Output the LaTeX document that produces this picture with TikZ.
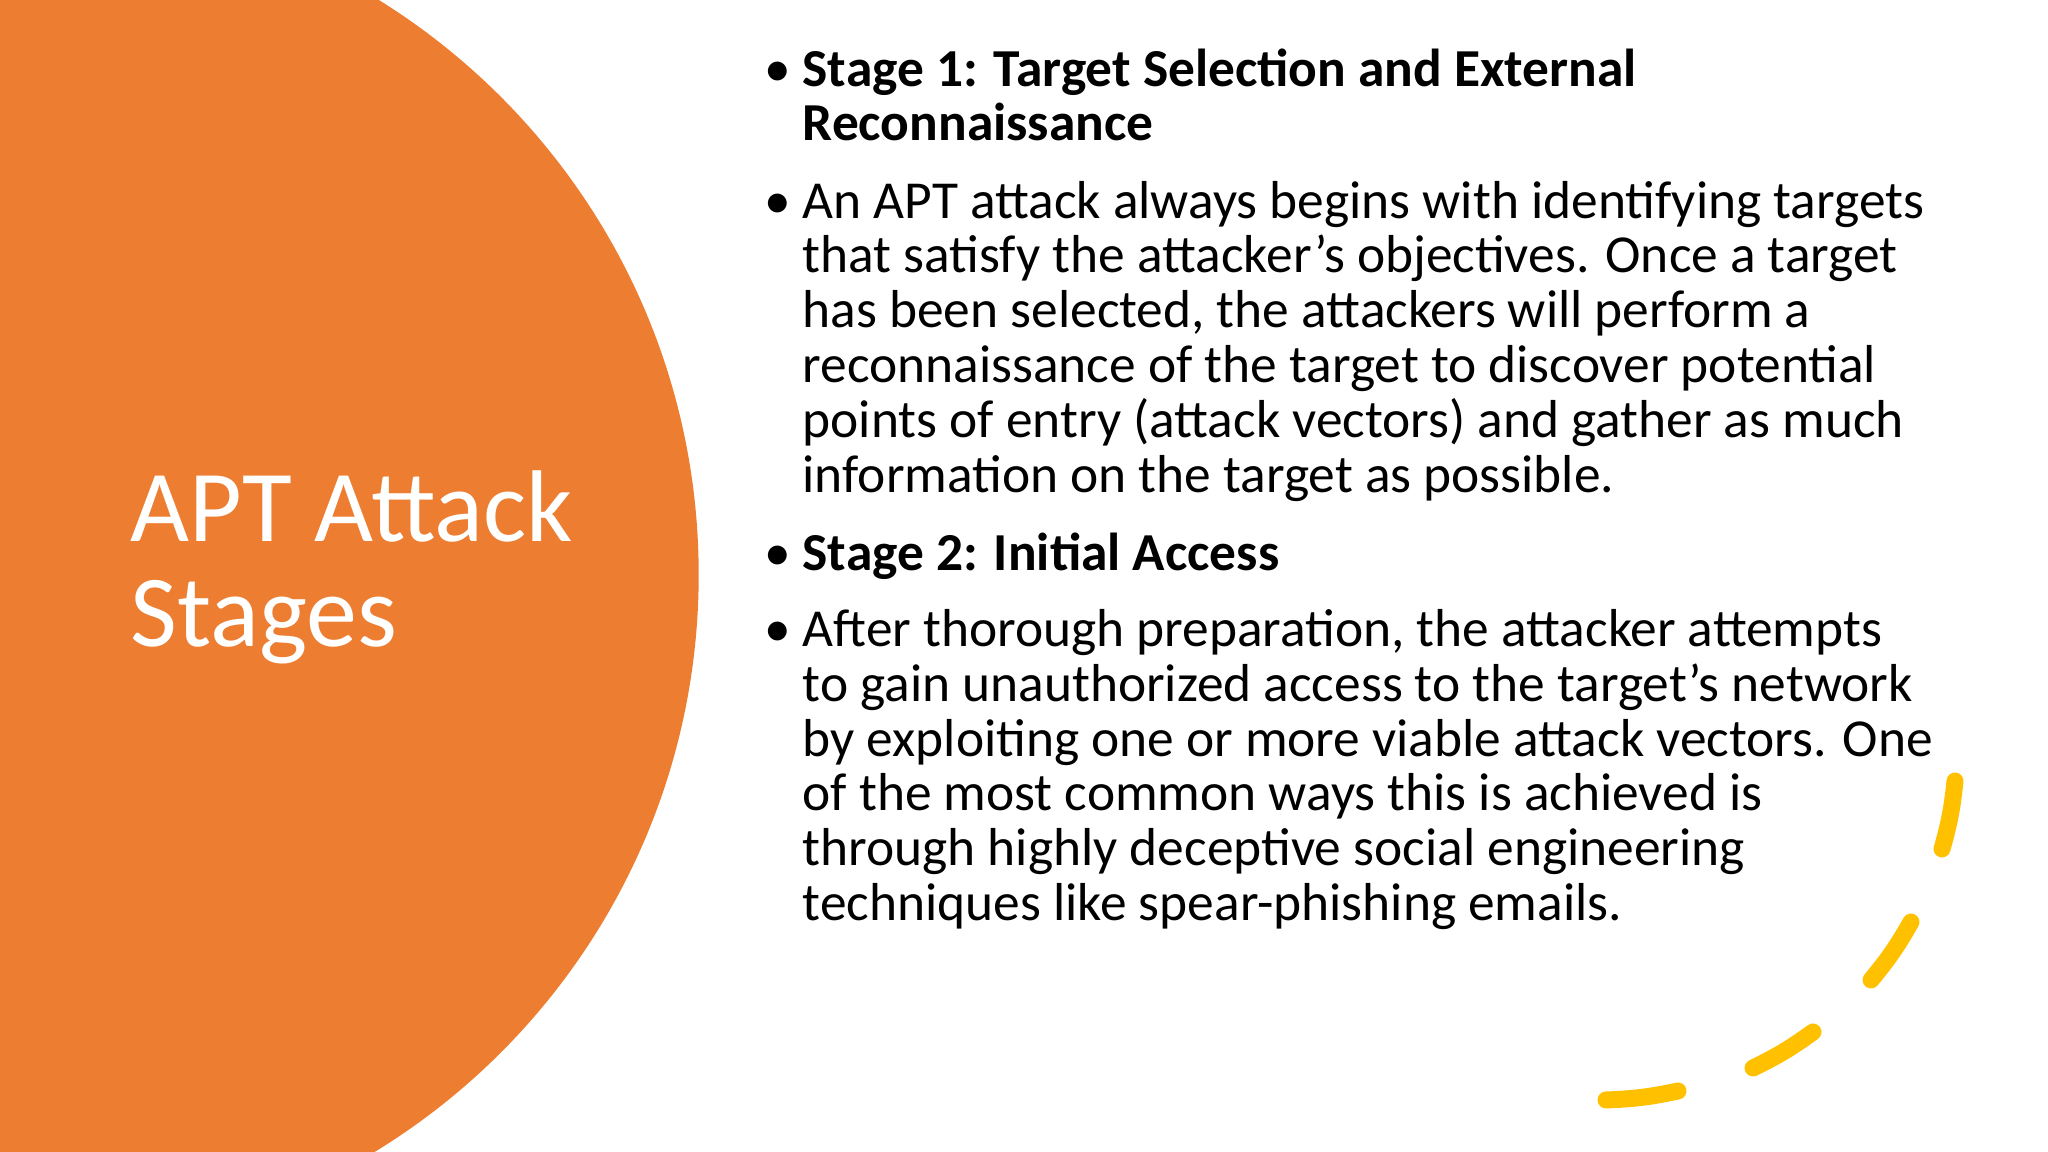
\documentclass[tikz,border=0pt]{standalone}
\usepackage{fontspec}
\setmainfont{Carlito}
\definecolor{apporange}{HTML}{ED7D31}
\definecolor{appyellow}{HTML}{FFC000}
\tikzset{
  bodyline/.style={anchor=base west, inner sep=0pt, font=\fontsize{15.2}{18}\selectfont},
  bulletmark/.style={anchor=base west, inner sep=0pt, font=\fontsize{15.2}{18}\selectfont},
  titleline/.style={anchor=base west, inner sep=0pt, text=white, font=\fontsize{29}{30}\selectfont},
  dashseg/.style={draw=appyellow, line width=0.17cm, line cap=round}
}
\begin{document}
\begin{tikzpicture}
\useasboundingbox (0,0) rectangle (20.48,11.52);
\begin{scope}
\clip (0,0) rectangle (20.48,11.52);
\fill[apporange] (0.227,5.773) circle (6.76);
\end{scope}
\node[titleline] (t1) at (1.30,6.10) {APT Attack};
\node[titleline] (t2) at (1.30,5.055) {Stages};
% bullets
\foreach \y/\n in {10.658/b1, 9.339/b2, 5.813/b3, 5.055/b4} {
  \node[bulletmark] (\n) at (7.64,\y) {•};
}
\node[bodyline] (l1) at (8.02,10.658) {\bfseries Stage 1: Target Selection and External};
\node[bodyline] (l2) at (8.02,10.110) {\bfseries Reconnaissance};
\node[bodyline] (l3) at (8.02,9.339) {An APT attack always begins with identifying targets};
\node[bodyline] (l4) at (8.02,8.790) {that satisfy the attacker’s objectives. Once a target};
\node[bodyline] (l5) at (8.02,8.242) {has been selected, the attackers will perform a};
\node[bodyline] (l6) at (8.02,7.693) {reconnaissance of the target to discover potential};
\node[bodyline] (l7) at (8.02,7.145) {points of entry (attack vectors) and gather as much};
\node[bodyline] (l8) at (8.02,6.596) {information on the target as possible.};
\node[bodyline] (l9) at (8.02,5.813) {\bfseries Stage 2: Initial Access};
\node[bodyline] (l10) at (8.02,5.055) {After thorough preparation, the attacker attempts};
\node[bodyline] (l11) at (8.02,4.507) {to gain unauthorized access to the target’s network};
\node[bodyline] (l12) at (8.02,3.958) {by exploiting one or more viable attack vectors. One};
\node[bodyline] (l13) at (8.02,3.410) {of the most common ways this is achieved is};
\node[bodyline] (l14) at (8.02,2.861) {through highly deceptive social engineering};
\node[bodyline] (l15) at (8.02,2.313) {techniques like spear-phishing emails.};
% yellow dashes
\coordinate (d1a) at (19.55,3.71); \coordinate (d1b) at (19.42,3.03);
\coordinate (d2a) at (19.11,2.30); \coordinate (d2b) at (18.71,1.72);
\coordinate (d3a) at (18.13,1.20); \coordinate (d3b) at (17.53,0.84);
\coordinate (d4a) at (16.78,0.61); \coordinate (d4b) at (16.06,0.52);
\draw[dashseg] (d1a) to[bend left=5] (d1b);
\draw[dashseg] (d2a) to[bend left=5] (d2b);
\draw[dashseg] (d3a) to[bend left=5] (d3b);
\draw[dashseg] (d4a) to[bend left=5] (d4b);
\end{tikzpicture}
\end{document}
